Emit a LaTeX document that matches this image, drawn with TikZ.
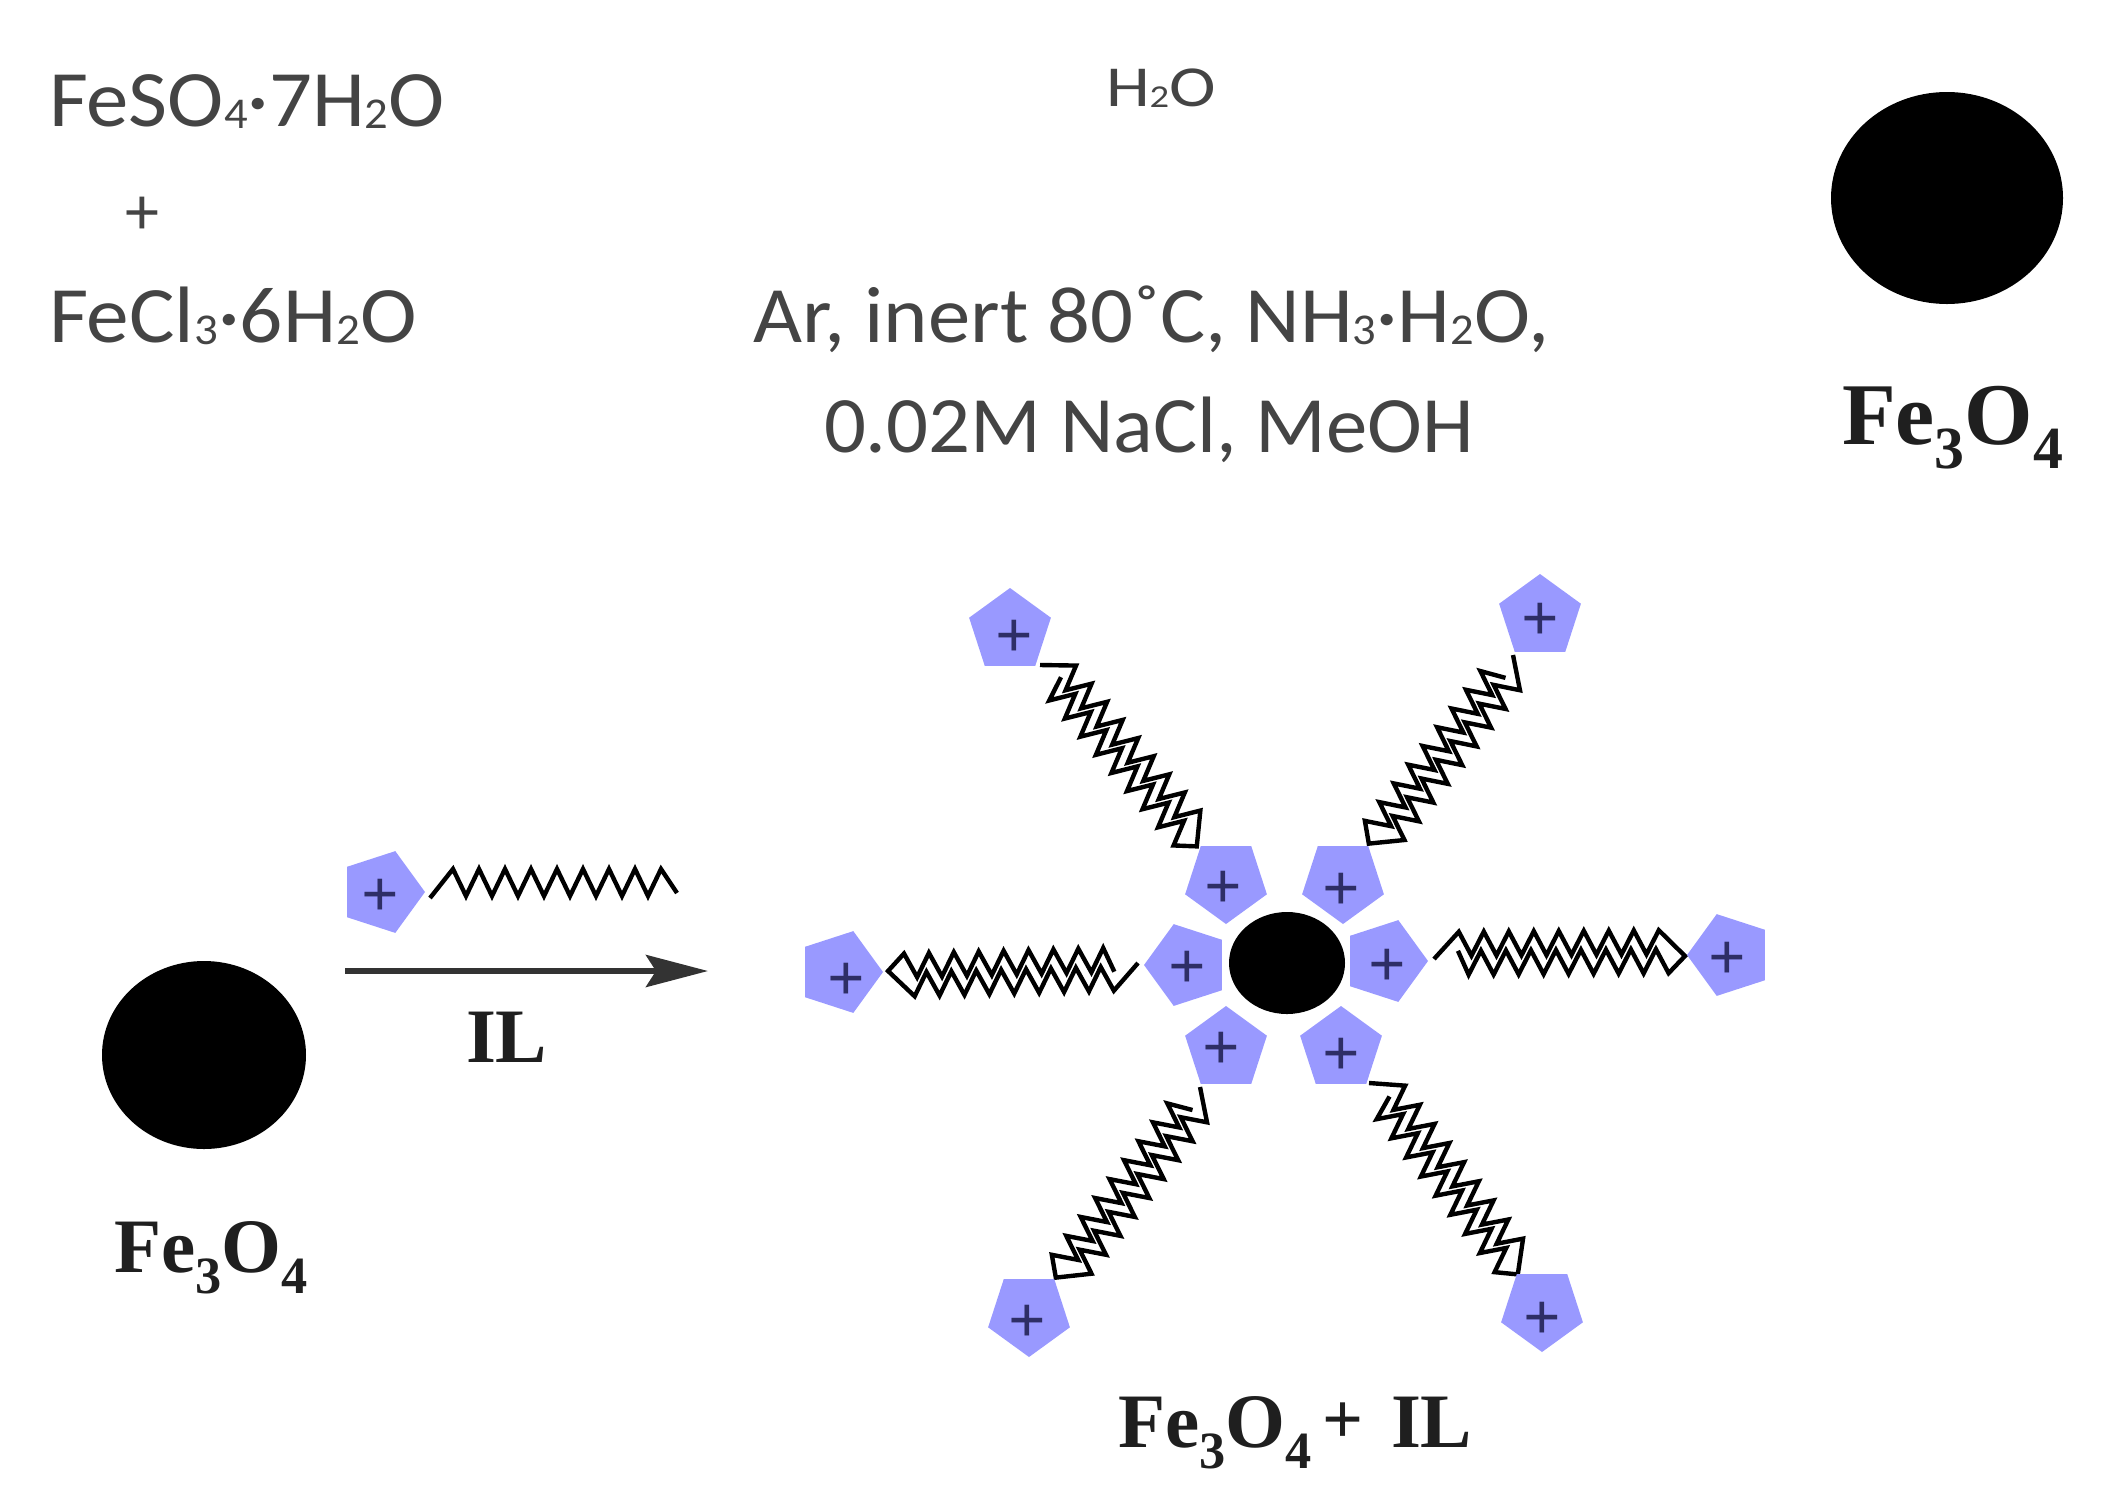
\documentclass[tikz,border=0pt]{standalone}
\usepackage{fontspec}
\setmainfont{Liberation Serif}
\newfontfamily\calfont{Carlito}
\usetikzlibrary{arrows.meta,shapes.geometric}
\definecolor{penta}{HTML}{9999FF}
\definecolor{plusc}{HTML}{2E2E66}
\definecolor{txt}{HTML}{444444}
\newcommand\sbs[1]{\raisebox{-0.03em}{\scalebox{0.55}{#1}}}
\newcommand\sbb[1]{\raisebox{-0.28em}{\scalebox{0.68}{#1}}}
\newcommand\fesub{Fe\sbb{3}O\sbb{4}}
\tikzset{
  lab/.style={anchor=base west,inner sep=0pt,outer sep=0pt,text=txt},
  thin lab/.style={lab,font=\calfont\fontsize{40}{48}\selectfont},
  small lab/.style={lab,font=\calfont\fontsize{29}{35}\selectfont},
  bold lab/.style={anchor=base west,inner sep=0pt,outer sep=0pt,text=black!88,font=\bfseries\fontsize{38.5}{46}\selectfont},
  big lab/.style={bold lab,font=\bfseries\fontsize{44}{50}\selectfont},
  ball/.style={shape=ellipse,fill=black,draw=none,inner sep=0pt,outer sep=0pt},
  pent/.style={shape=regular polygon,regular polygon sides=5,fill=penta,draw=none,inner sep=0pt,outer sep=0pt,minimum size=43pt},
  plusmark/.style={inner sep=0pt,outer sep=0pt,text=plusc,yshift=-2.5pt,font=\bfseries\fontsize{33}{33}\selectfont},
  chainline/.style={draw=black,line width=2.2pt,line join=miter},
  reactarrow/.style={draw=black!80,line width=3pt,-{Stealth[length=31pt,width=16pt,inset=5pt]}}
}
% \pentagon{name}{x}{y}{rotation}{plus x}{plus y}
\newcommand\pentagon[6]{%
  \node[pent,rotate=#4] (#1) at (#2,#3) {};
  \node[plusmark] (#1-plus) at (#5,#6) {+};
}
% \chain{name}{x1}{y1}{x2}{y2}: a double zigzag, folded at its far end
\newcommand\chain[5]{%
  \pgfmathsetmacro\chA{atan2(-((#5)-(#3)),(#4)-(#2))}
  \pgfmathsetmacro\chL{veclen((#4)-(#2),(#5)-(#3))}
  \pgfmathsetmacro\chF{\chL/251}
  \coordinate (#1-s) at (#2,#3);
  \coordinate (#1-e) at (#4,#5);
  \begin{scope}[shift={(#1-s)},rotate=\chA]
    \draw[chainline] (0,0)
      \foreach \k in {0,...,8} { -- ({(25+25*\k)*\chF},-27) \ifnum\k<8 -- ({(37.5+25*\k)*\chF},-3)\fi }
      -- ({251*\chF},-1)
      \foreach \k in {8,7,...,0} { -- ({(34.5+25*\k)*\chF},16) \ifnum\k>0 -- ({(22+25*\k)*\chF},-8)\fi }
      -- ({24*\chF},-8);
  \end{scope}
}
\begin{document}
\begin{tikzpicture}[x=0.5pt,y=-0.5pt]
\useasboundingbox (0,0) rectangle (2113,1494);

% top row text
\node[thin lab] (t1) at (49,126) {\scalebox{1.06}[1]{FeSO\sbs{4}·7H\sbs{2}O}};
\node[thin lab,anchor=center,font=\calfont\fontsize{34}{40}\selectfont] (t2) at (142,216) {+};
\node[thin lab] (t3) at (49,342) {\scalebox{1.067}[1]{FeCl\sbs{3}·6H\sbs{2}O}};
\node[small lab] (t4) at (1106,106) {\scalebox{1.21}[1]{H\sbs{2}O}};
\node[thin lab] (t5) at (753,342) {\scalebox{1.058}[1]{Ar, inert 80˚C, NH\sbs{3}·H\sbs{2}O,}};
\node[thin lab] (t6) at (824,452) {\scalebox{1.034}[1]{0.02M NaCl, MeOH}};

\node[ball,minimum width=116pt,minimum height=106pt] (ballA) at (1947,198) {};
\node[big lab] (feA) at (1842,444) {\fesub};

% lower left
\node[ball,minimum width=102pt,minimum height=94pt] (ballB) at (204,1055) {};
\node[bold lab] (feB) at (114,1272) {\fesub};

\pentagon{il}{382}{892}{-90}{380}{893}
\coordinate (ils) at (430,898);
\draw[chainline] (ils) -- (453,869)
  \foreach \k in {0,...,7} { -- ({466+26*\k},896) -- ({479+26*\k},869) } -- (677,893);

\coordinate (arS) at (345,971);
\coordinate (arE) at (708,971);
\draw[reactarrow] (arS) -- (arE);
\node[bold lab] (lblIL) at (466,1062) {IL};

% central assembly
\node[ball,minimum width=58pt,minimum height=51pt] (core) at (1287,963) {};

\chain{c1}{1040}{665}{1196}{847}
\chain{c2}{1513}{655}{1368}{843}
\chain{c3}{1138}{963}{888}{970}
\chain{c4}{1434}{959}{1685}{957}
\chain{c5}{1200}{1087}{1055}{1277}
\chain{c6}{1369}{1083}{1517}{1275}

\pentagon{o1}{1010}{631}{0}{1014}{634}
\pentagon{o2}{1540}{617}{0}{1540}{617}
\pentagon{o3}{840}{972}{-90}{846}{977}
\pentagon{o4}{1730}{955}{90}{1727}{956}
\pentagon{o5}{1029}{1314}{180}{1027}{1319}
\pentagon{o6}{1542}{1309}{180}{1542}{1316}
\pentagon{i1}{1226}{881}{180}{1223}{885}
\pentagon{i2}{1343}{881}{180}{1341}{887}
\pentagon{i3}{1187}{965}{90}{1187}{965}
\pentagon{i4}{1385}{961}{-90}{1387}{963}
\pentagon{i5}{1226}{1049}{0}{1221}{1046}
\pentagon{i6}{1341}{1049}{0}{1341}{1052}

\node[bold lab] (feC) at (1118,1447) {\fesub};
\node[bold lab,anchor=center,font=\bfseries\fontsize{36}{36}\selectfont] (plusC) at (1343,1423) {+};
\node[bold lab] (ilC) at (1391,1447) {IL};
\end{tikzpicture}
\end{document}
